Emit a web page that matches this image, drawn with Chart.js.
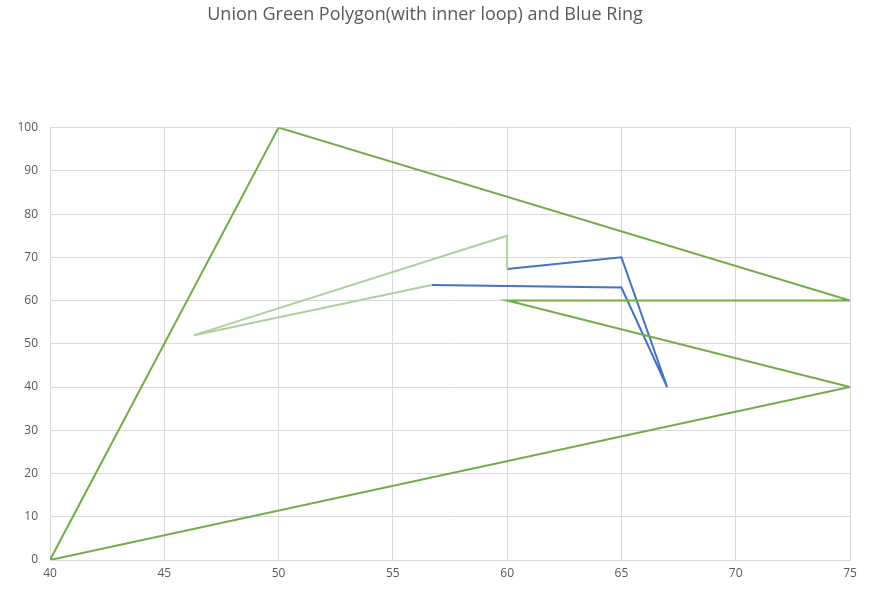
<!DOCTYPE html>
<html><head><meta charset="utf-8">
<script src="https://cdn.jsdelivr.net/npm/chart.js@4"></script>
<style>html,body{margin:0;padding:0;background:#fff}#w{width:880px;height:594px}</style>
</head><body><div id="w"><canvas id="c"></canvas></div>
<script>
const outerX=[40,50,75,60,75,40];
const outerY=[0,100,60,60,40,0];
const innerX=[60,60,46.3,56.7];
const innerY=[67.3,75,52,63.6];
const ringX=[56.7,65,67,65,60];
const ringY=[63.6,63,40,70,67.3];
const xTicks=[40,45,50,55,60,65,70,75];
const pts=(xs,ys)=>xs.map((x,i)=>({x,y:ys[i]}));
const ds=(data,color)=>({data,borderColor:color,borderWidth:2,showLine:true,pointRadius:0,fill:false,tension:0});
new Chart(document.getElementById('c'),{
 type:'scatter',
 data:{datasets:[ds(pts(outerX,outerY),'#70ad47'),ds(pts(innerX,innerY),'#b0cfa0'),ds(pts(ringX,ringY),'#4472c4')]},
 options:{responsive:true,maintainAspectRatio:false,animation:false,
  layout:{padding:{left:0,right:30,top:0,bottom:0}},
  plugins:{legend:{display:false},tooltip:{enabled:false},
   title:{display:true,text:'Union Green Polygon(with inner loop) and Blue Ring',color:'#595959',font:{family:'Open Sans',size:18,weight:'normal'},padding:{top:4,bottom:102}}},
  scales:{
   x:{type:'linear',min:40,max:75,afterBuildTicks:a=>{a.ticks=xTicks.map(v=>({value:v}));},
      afterFit:a=>{a.height=34;},
      grid:{color:'#d9d9d9',drawTicks:false},border:{color:'#d9d9d9'},
      ticks:{color:'#595959',font:{family:'Open Sans',size:12},padding:6}},
   y:{min:0,max:100,afterFit:a=>{a.width=50;},
      grid:{color:'#d9d9d9',drawTicks:false},border:{color:'#d9d9d9'},
      ticks:{stepSize:10,color:'#595959',font:{family:'Open Sans',size:12},padding:12}}
  }}
});
</script></body></html>
